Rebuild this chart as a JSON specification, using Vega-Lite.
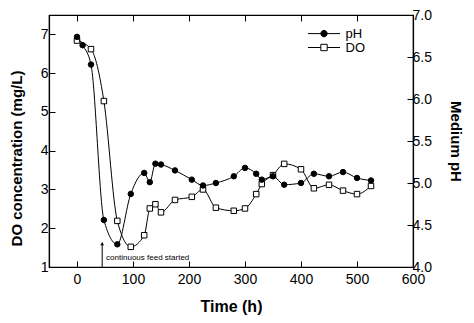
{
  "$schema": "https://vega.github.io/schema/vega-lite/v6.json",
  "width": 364,
  "height": 252,
  "autosize": {"type": "none"},
  "padding": {"left": 49, "top": 15, "right": 61, "bottom": 56},
  "background": "white",
  "config": {
    "view": {"stroke": "black", "strokeWidth": 1.2},
    "font": "Liberation Sans",
    "axis": {
      "grid": false,
      "domainColor": "black",
      "domainWidth": 1.2,
      "tickColor": "black",
      "tickWidth": 1,
      "labelColor": "black",
      "titleColor": "black",
      "labelFont": "Liberation Sans",
      "titleFont": "Liberation Sans",
      "labelFontSize": 14,
      "titleFontSize": 15,
      "titleFontWeight": "bold",
      "labelFlush": false,
      "labelOverlap": false,
      "labelBound": false
    },
    "legend": {
      "labelFont": "Liberation Sans",
      "labelFontSize": 13,
      "labelColor": "black",
      "padding": 0
    }
  },
  "datasets": {
    "pts": [
      {"series": "pH", "time": 0, "value": 6.74},
      {"series": "pH", "time": 10, "value": 6.64},
      {"series": "pH", "time": 25, "value": 6.41},
      {"series": "pH", "time": 48, "value": 4.56},
      {"series": "pH", "time": 72, "value": 4.27},
      {"series": "pH", "time": 96, "value": 4.87},
      {"series": "pH", "time": 120, "value": 5.12},
      {"series": "pH", "time": 130, "value": 5.01},
      {"series": "pH", "time": 140, "value": 5.23},
      {"series": "pH", "time": 150, "value": 5.22},
      {"series": "pH", "time": 175, "value": 5.15},
      {"series": "pH", "time": 205, "value": 5.04},
      {"series": "pH", "time": 225, "value": 4.97},
      {"series": "pH", "time": 248, "value": 5.0},
      {"series": "pH", "time": 280, "value": 5.08},
      {"series": "pH", "time": 300, "value": 5.18},
      {"series": "pH", "time": 320, "value": 5.11},
      {"series": "pH", "time": 330, "value": 5.04},
      {"series": "pH", "time": 350, "value": 5.08},
      {"series": "pH", "time": 370, "value": 4.98},
      {"series": "pH", "time": 400, "value": 5.0},
      {"series": "pH", "time": 423, "value": 5.11},
      {"series": "pH", "time": 450, "value": 5.08},
      {"series": "pH", "time": 475, "value": 5.13},
      {"series": "pH", "time": 500, "value": 5.06},
      {"series": "pH", "time": 525, "value": 5.03},
      {"series": "DO", "time": 0, "value": 6.84},
      {"series": "DO", "time": 25, "value": 6.62},
      {"series": "DO", "time": 48, "value": 5.28},
      {"series": "DO", "time": 72, "value": 2.19},
      {"series": "DO", "time": 96, "value": 1.52},
      {"series": "DO", "time": 120, "value": 1.82},
      {"series": "DO", "time": 130, "value": 2.51},
      {"series": "DO", "time": 140, "value": 2.62},
      {"series": "DO", "time": 150, "value": 2.41},
      {"series": "DO", "time": 175, "value": 2.73},
      {"series": "DO", "time": 205, "value": 2.81},
      {"series": "DO", "time": 225, "value": 3.0},
      {"series": "DO", "time": 248, "value": 2.53},
      {"series": "DO", "time": 280, "value": 2.45},
      {"series": "DO", "time": 300, "value": 2.51},
      {"series": "DO", "time": 320, "value": 2.88},
      {"series": "DO", "time": 330, "value": 3.14},
      {"series": "DO", "time": 350, "value": 3.37},
      {"series": "DO", "time": 370, "value": 3.66},
      {"series": "DO", "time": 400, "value": 3.52},
      {"series": "DO", "time": 423, "value": 3.03},
      {"series": "DO", "time": 450, "value": 3.12},
      {"series": "DO", "time": 475, "value": 2.97},
      {"series": "DO", "time": 500, "value": 2.88},
      {"series": "DO", "time": 525, "value": 3.09}
    ],
    "note": [
      {"time": 45, "value": 1, "hi": 1.6, "textx": 52, "texty": 1.24, "label": "continuous feed started"}
    ]
  },
  "resolve": {"scale": {"y": "independent", "stroke": "independent"}, "axis": {"x": "independent"}},
  "layer": [
    {
      "layer": [
        {
          "data": {"name": "pts"},
          "transform": [{"filter": "datum.series === 'DO'"}],
          "mark": {"type": "line", "color": "black", "strokeWidth": 1, "interpolate": "monotone"},
          "encoding": {
            "x": {
              "field": "time", "type": "quantitative",
              "scale": {"domain": [-50, 600], "nice": false, "zero": false},
              "axis": {
                "orient": "bottom",
                "values": [0, 50, 100, 150, 200, 250, 300, 350, 400, 450, 500, 550, 600],
                "tickSize": {"condition": {"test": "datum.value % 100 === 0", "value": -6}, "value": -3},
                "labelExpr": "datum.value % 100 === 0 ? datum.label : ''",
                "labelPadding": 11,
                "title": "Time (h)",
                "titleFontSize": 16,
                "titlePadding": 12
              }
            },
            "y": {
              "field": "value", "type": "quantitative",
              "scale": {"domain": [1, 7.5], "nice": false, "zero": false},
              "axis": {
                "orient": "left",
                "values": [1, 1.5, 2, 2.5, 3, 3.5, 4, 4.5, 5, 5.5, 6, 6.5, 7],
                "tickSize": {"condition": {"test": "datum.value % 1 === 0", "value": -6}, "value": -3},
                "labelExpr": "datum.value % 1 === 0 ? datum.label : ''",
                "labelPadding": 7,
                "title": "DO concentration (mg/L)",
                "titlePadding": 16,
                "titleY": 143
              }
            }
          }
        },
        {
          "data": {"name": "pts"},
          "transform": [{"filter": "datum.series === 'DO'"}],
          "mark": {"type": "point", "shape": "square", "filled": true, "fill": "white", "strokeWidth": 1, "size": 30, "opacity": 1},
          "encoding": {
            "x": {"field": "time", "type": "quantitative"},
            "y": {"field": "value", "type": "quantitative"},
            "stroke": {
              "datum": "DO", "type": "nominal",
              "scale": {"range": ["black"]},
              "legend": {
                "title": null, "orient": "none", "legendX": 268, "legendY": 25.5,
                "symbolType": "M-2.5,0H-0.5M0.5,0H2.5M-0.5,-0.5H0.5V0.5H-0.5Z",
                "symbolSize": 164, "symbolStrokeWidth": 1, "symbolFillColor": "white", "symbolStrokeColor": "black",
                "labelOffset": 14.5
              }
            }
          }
        },
        {
          "data": {"name": "note"},
          "mark": {"type": "rule", "color": "black", "strokeWidth": 1},
          "encoding": {
            "x": {"field": "time", "type": "quantitative"},
            "y": {"field": "value", "type": "quantitative"},
            "y2": {"field": "hi"}
          }
        },
        {
          "data": {"name": "note"},
          "mark": {"type": "point", "shape": "triangle-up", "filled": true, "color": "black", "size": 14, "opacity": 1},
          "encoding": {
            "x": {"field": "time", "type": "quantitative"},
            "y": {"field": "hi", "type": "quantitative"}
          }
        },
        {
          "data": {"name": "note"},
          "mark": {"type": "text", "align": "left", "baseline": "middle", "font": "Liberation Sans", "fontSize": 8, "color": "black"},
          "encoding": {
            "x": {"field": "textx", "type": "quantitative"},
            "y": {"field": "texty", "type": "quantitative"},
            "text": {"field": "label"}
          }
        }
      ]
    },
    {
      "layer": [
        {
          "data": {"name": "pts"},
          "transform": [{"filter": "datum.series === 'pH'"}],
          "mark": {"type": "line", "color": "black", "strokeWidth": 1, "interpolate": "monotone"},
          "encoding": {
            "x": {
              "field": "time", "type": "quantitative",
              "scale": {"domain": [-50, 600], "nice": false, "zero": false},
              "axis": {
                "orient": "top",
                "values": [0, 50, 100, 150, 200, 250, 300, 350, 400, 450, 500, 550, 600],
                "tickSize": {"condition": {"test": "datum.value % 100 === 0", "value": -6}, "value": -3},
                "labels": false,
                "title": null
              }
            },
            "y": {
              "field": "value", "type": "quantitative",
              "scale": {"domain": [4, 7], "nice": false, "zero": false},
              "axis": {
                "orient": "right",
                "values": [4, 4.25, 4.5, 4.75, 5, 5.25, 5.5, 5.75, 6, 6.25, 6.5, 6.75, 7],
                "format": ".1f",
                "tickSize": {"condition": {"test": "datum.value % 0.5 === 0", "value": -6}, "value": -3},
                "labelExpr": "datum.value % 0.5 === 0 ? datum.label : ''",
                "labelPadding": 5,
                "title": "Medium pH",
                "titlePadding": 16
              }
            }
          }
        },
        {
          "data": {"name": "pts"},
          "transform": [{"filter": "datum.series === 'pH'"}],
          "mark": {"type": "point", "shape": "circle", "filled": true, "fill": "black", "strokeWidth": 1, "size": 30, "opacity": 1},
          "encoding": {
            "x": {"field": "time", "type": "quantitative"},
            "y": {"field": "value", "type": "quantitative"},
            "stroke": {
              "datum": "pH", "type": "nominal",
              "scale": {"range": ["black"]},
              "legend": {
                "title": null, "orient": "none", "legendX": 268, "legendY": 11.6,
                "symbolType": "M-2.5,0H-0.5M0.5,0H2.5M0.5,0A0.5,0.5 0 1,1 -0.5,0A0.5,0.5 0 1,1 0.5,0Z",
                "symbolSize": 164, "symbolStrokeWidth": 1, "symbolFillColor": "black", "symbolStrokeColor": "black",
                "labelOffset": 14.5
              }
            }
          }
        }
      ]
    }
  ]
}
